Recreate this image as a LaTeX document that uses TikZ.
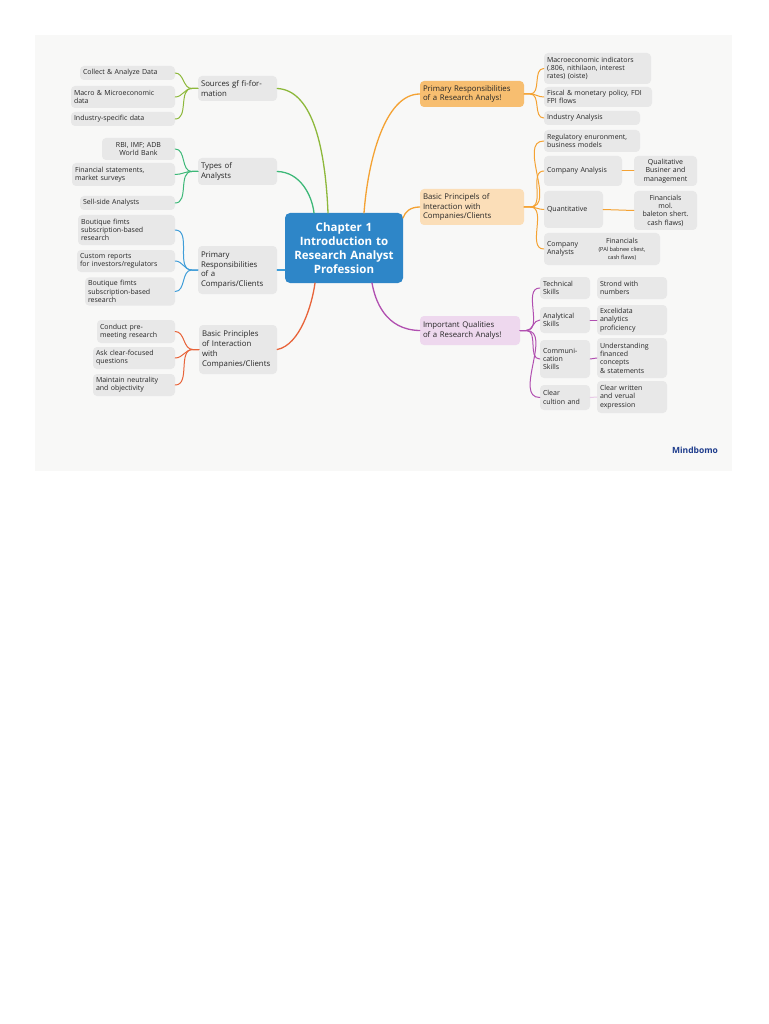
\documentclass[tikz,border=0pt]{standalone}
\usepackage{fontspec}
\setmainfont{Open Sans}
\begin{document}
\begin{tikzpicture}[x=1pt,y=-1pt,
 leaf/.style={rounded corners=4pt,fill=black!9,font=\fontsize{7}{8.3}\selectfont,align=left,inner sep=3pt,text=black!85},
 leafc/.style={leaf,align=center},
 mid/.style={leaf,font=\fontsize{7.8}{9.8}\selectfont},
 c/.style={line width=1.3pt,line cap=round}]
\definecolor{bg}{HTML}{F8F8F7}
\definecolor{cblue}{HTML}{2E86C8}
\definecolor{colive}{HTML}{8DB83B}
\definecolor{cgreen}{HTML}{3DB878}
\definecolor{csky}{HTML}{3F9DD8}
\definecolor{cred}{HTML}{E8643A}
\definecolor{corange}{HTML}{F4A233}
\definecolor{cpurple}{HTML}{B14FB0}
\useasboundingbox (0,0) rectangle (768,1024);
\fill[white] (0,0) rectangle (768,1024);
\fill[bg] (35,35) rectangle (732,471);
\newcommand\bx[7]{\pgfmathsetmacro\mybw{#4-#2}\pgfmathsetmacro\mybh{#5-#3}\pgfmathsetmacro\mytw{#4-#2-6}\pgfmathsetmacro\mycx{(#2+#4)/2}\pgfmathsetmacro\mycy{(#3+#5)/2}\node[#6,minimum width=\mybw pt,minimum height=\mybh pt,text width=\mytw pt] (#1) at (\mycx,\mycy) {#7};}
% centre
\bx{C}{285}{213}{403}{283}{rounded corners=5pt,fill=cblue,text=white,align=center,font=\fontsize{11.5}{14}\selectfont\bfseries,inner sep=3pt}{Chapter 1\\Introduction to\\Research Analyst\\Profession}
% left mids
\bx{S}{198}{76}{277}{101}{mid}{Sources gf fi-for-\\mation}
\bx{T}{198}{158}{277}{185}{mid}{Types of\\Analysts}
\bx{P}{198}{246}{277}{294}{mid}{Primary\\Responsibilities\\of a\\Comparis/Clients}
\bx{B}{199}{325}{277}{374}{mid}{Basic Principles\\of Interaction\\with\\Companies/Clients}
% left leaves
\bx{S1}{80}{66}{175}{80}{leaf}{Collect \& Analyze Data}
\bx{S2}{71}{86}{175}{108}{leaf}{Macro \& Microeconomic\\data}
\bx{S3}{71}{112}{175}{126}{leaf}{Industry-specific data}
\bx{T1}{102}{138}{175}{160}{leafc}{RBI, IMF; ADB\\World Bank}
\bx{T2}{72}{163}{175}{186}{leaf}{Financial statements,\\market surveys}
\bx{T3}{80}{196}{175}{210}{leaf}{Sell-side Analysts}
\bx{P1}{78}{215}{175}{245}{leaf}{Boutique fimts\\subscription-based\\research}
\bx{P2}{77}{250}{175}{272}{leaf}{Custom reports\\for investors/regulators}
\bx{P3}{85}{278}{175}{305}{leaf}{Boutique fimts\\subscription-based\\research}
\bx{B1}{97}{320}{175}{343}{leaf}{Conduct pre-\\meeting research}
\bx{B2}{93}{347}{175}{369}{leaf}{Ask clear-focused\\questions}
\bx{B3}{93}{374}{175}{396}{leaf}{Maintain neutrality\\and objectivity}
% right mids
\bx{R}{420}{81}{524}{107}{mid,fill=corange!70}{Primary Responsibilities\\of a Research Analys!}
\bx{Q}{420}{189}{524}{225}{mid,fill=corange!35}{Basic Principels of\\Interaction with\\Companies/Clients}
\bx{I}{420}{316}{520}{345}{mid,fill=cpurple!22}{Important Qualities\\of a Research Analys!}
% right leaves
\bx{R1}{544}{53}{651}{84}{leaf}{Macroeconomic indicators\\(.806, nithilaon, interest\\rates) (oiste)}
\bx{R2}{544}{87}{652}{107}{leaf}{Fiscal \& monetary policy, FDI\\FPI flows}
\bx{R3}{544}{111}{640}{125}{leaf}{Industry Analysis}
\bx{Q1}{544}{130}{640}{152}{leaf}{Regulatory enuronment,\\business models}
\bx{Q2}{544}{156}{622}{186}{leaf}{Company Analysis}
\bx{Q2b}{634}{156}{697}{186}{leafc}{Qualitative\\Businer and\\management}
\bx{Q3}{544}{191}{603}{228}{leaf}{Quantitative}
\bx{Q3b}{634}{191}{697}{230}{leafc}{Financials\\mol.\\baleton shert.\\cash flaws)}
\bx{Q4}{544}{233}{660}{265}{leaf}{Company\\Analysts}
\node[font=\fontsize{7}{8}\selectfont,align=center,text=black!85] (Q4b) at (622,249) {Financials\\{\fontsize{5.6}{7}\selectfont (PAl babnee cliest,}\\{\fontsize{5.6}{7}\selectfont cash flaws)}};
\bx{I1}{540}{277}{590}{299}{leaf}{Technical\\Skills}
\bx{I1b}{597}{277}{667}{299}{leaf}{Strond with\\numbers}
\bx{I2}{540}{307}{590}{333}{leaf}{Analytical\\Skills}
\bx{I2b}{597}{305}{667}{335}{leaf}{Excelidata\\analytics\\proficiency}
\bx{I3}{540}{340}{590}{378}{leaf}{Communi-\\cation\\Skills}
\bx{I3b}{597}{338}{667}{378}{leaf}{Understanding\\financed\\concepts\\\& statements}
\bx{I4}{540}{385}{590}{410}{leaf}{Clear\\cultion and}
\bx{I4b}{597}{381}{667}{413}{leaf}{Clear written\\and verual\\expression}
% centre branches
\draw[c,colive] (S.east) .. controls (310,90) and (325,140) .. (328,213);
\draw[c,cgreen] (T.east) .. controls (300,172) and (312,195) .. (314,213);
\draw[c,csky] (P.east) -- (C.west|-P.east);
\draw[c,cred] (B.east) .. controls (300,345) and (312,305) .. (315,283);
\draw[c,corange] (R.west) .. controls (385,94) and (368,160) .. (364,213);
\draw[c,corange] (Q.west) .. controls (410,207) and (405,212) .. (403,218);
\draw[c,cpurple] (I.west) .. controls (385,330) and (375,300) .. (372,283);
% left leaf links
\foreach \p/\col/\l in {S/colive/S1,S/colive/S2,S/colive/S3,T/cgreen/T1,T/cgreen/T2,T/cgreen/T3,P/csky/P1,P/csky/P2,P/csky/P3,B/cred/B1,B/cred/B2,B/cred/B3}
 \draw[c,line width=1pt,\col] (\p.west) -- ++(-6,0) to[out=180,in=0] (\l.east);
% right leaf links
\foreach \p/\col/\l in {R/corange/R1,R/corange/R2,R/corange/R3,Q/corange/Q1,Q/corange/Q2,Q/corange/Q3,Q/corange/Q4,I/cpurple/I1,I/cpurple/I2,I/cpurple/I3,I/cpurple/I4}
 \draw[c,line width=1pt,\col] (\p.east) -- ++(6,0) to[out=0,in=180] (\l.west);
\draw[c,line width=1pt,corange] (Q2.east) -- (Q2b.west);
\draw[c,line width=1pt,corange] (Q3.east) -- (Q3b.west);
\draw[c,line width=1pt,cpurple] (I2.east) -- (I2b.west);
\draw[c,line width=1pt,cpurple] (I3.east) -- (I3b.west);
\draw[c,line width=1pt,cpurple!30] (I4.east) -- (I4b.west);
\node[font=\fontsize{8.5}{9}\selectfont\bfseries,text={rgb,255:red,30;green,60;blue,140}] (M) at (695,450) {Mindbomo};
\end{tikzpicture}
\end{document}
